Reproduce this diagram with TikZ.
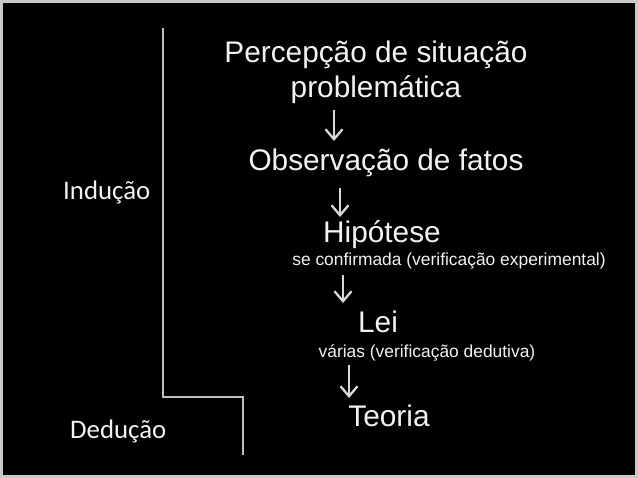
\documentclass[tikz,border=0pt]{standalone}
\usepackage{fontspec}
\setmainfont{Liberation Sans}
\newfontfamily\calfont{Carlito}
\usetikzlibrary{arrows.meta}
\definecolor{txt}{HTML}{F2F2F2}
\definecolor{ln}{HTML}{D8D8D8}
\definecolor{brk}{HTML}{BFBFBF}
\definecolor{frame}{HTML}{C8C8C8}
\tikzset{
  big/.style={text=txt, font=\fontsize{29.8}{34}\selectfont, anchor=base, inner sep=0pt},
  small/.style={text=txt, font=\fontsize{17.4}{20}\selectfont, anchor=base, inner sep=0pt},
  side/.style={text=txt, font=\calfont\fontsize{26.8}{30}\selectfont, anchor=base west, inner sep=0pt},
  darr/.style={draw=ln, line width=2.3pt, -{Straight Barb[length=10pt,width=17pt,line width=2.3pt]}},
  bracket/.style={draw=brk, line width=1.3pt},
}
\begin{document}
\begin{tikzpicture}[x=1pt,y=-1pt]
\fill[frame] (0,0) rectangle (638,478);
\fill[black] (3,3) rectangle (635,475);
\useasboundingbox (0,0) rectangle (638,478);

\node[big] (t1) at (376,63) {Percepção de situação};
\node[big] (t2) at (376,98) {problemática};
\node[big] (obs) at (386,171) {Observação de fatos};
\node[big] (hip) at (382,243) {Hipótese};
\node[small] (hipn) at (449,266) {se confirmada (verificação experimental)};
\node[big] (lei) at (378,333) {Lei};
\node[small] (lein) at (427,358) {várias (verificação dedutiva)};
\node[big] (teo) at (389,427) {Teoria};

\node[side] (ind) at (63,200) {Indução};
\node[side] (ded) at (70,439) {Dedução};

\coordinate (a1s) at (334,110); \coordinate (a1e) at (334,141);
\coordinate (a2s) at (340,188); \coordinate (a2e) at (340,217);
\coordinate (a3s) at (343,275); \coordinate (a3e) at (343,303);
\coordinate (a4s) at (349,365); \coordinate (a4e) at (349,398);
\draw[darr] (a1s) -- (a1e);
\draw[darr] (a2s) -- (a2e);
\draw[darr] (a3s) -- (a3e);
\draw[darr] (a4s) -- (a4e);

\coordinate (b1) at (163,28);
\coordinate (b2) at (163,397);
\coordinate (b3) at (243,397);
\coordinate (b4) at (243,455);
\draw[bracket] (b1) -- (b2) -- (b3) -- (b4);
\end{tikzpicture}
\end{document}
